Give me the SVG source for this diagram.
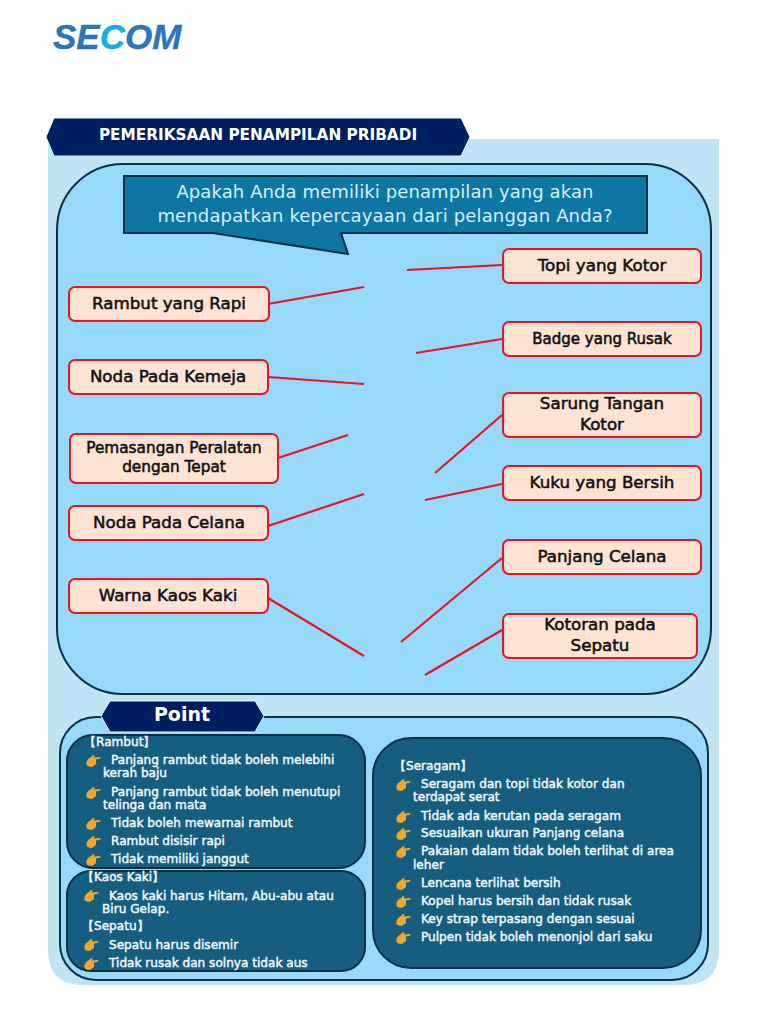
<svg xmlns="http://www.w3.org/2000/svg" width="768" height="1024" viewBox="0 0 768 1024">
<style>
.lab{font-family:"DejaVu Sans",sans-serif;font-size:16.700px;fill:#111;stroke:#111;stroke-width:.55px;text-anchor:middle}
.box{fill:#fde3d4;stroke:#f01020;stroke-width:2}
.p{font-family:"DejaVu Sans",sans-serif;font-size:12.100px;fill:#f2f6f8;stroke:#f2f6f8;stroke-width:.45px}
.dark{fill:#155e80;stroke:#0b2f45;stroke-width:2}
.ln{stroke:#f01020;stroke-width:2.200;fill:none}
</style>
<defs>
<g id="hand"><path d="M-6.500 1C-5.500-2-3.500-3-2-4L0-6 1.500-5.500 1-3.500 6.500-4C8-3.800 8-2.500 6.500-2.300L3-1.500 3 2C3 3.500 2 4 1 4.500L-1 6-4.500 5.500C-6.500 4.500-7 3-6.500 1Z" fill="#f5a623"/></g>
</defs>
<text x="53" y="49" font-family="'Liberation Sans',sans-serif" font-size="35" font-weight="700" font-style="italic" fill="#2f75b5" stroke="#2f75b5" stroke-width=".4">SE<tspan fill="#12aeea" stroke="#12aeea">C</tspan>OM</text>
<path id="bg" d="M48 139H719V950Q719 985 684 985H83Q48 985 48 950Z" fill="#c1e4f5"/>
<g id="title"><path d="M54 118H461L470 137 461 156H54L46 137Z" fill="#001f60" stroke="#e8f2f8" stroke-width="1"/>
<text x="258" y="140" font-family="'DejaVu Sans',sans-serif" font-size="15.300" font-weight="700" fill="#fff" text-anchor="middle">PEMERIKSAAN PENAMPILAN PRIBADI</text></g>
<rect id="panel" x="57" y="164" width="654" height="530" rx="66" fill="#97d9f8" stroke="#0b2f45" stroke-width="2"/>
<g id="callout"><path d="M124 176H647V233H341L348 254 213 233H124Z" fill="#0d76a3" stroke="#0b2f45" stroke-width="2"/>
<text x="385" y="198" font-family="'DejaVu Sans',sans-serif" font-size="18" letter-spacing=".1" fill="#d8eef8" text-anchor="middle">Apakah Anda memiliki penampilan yang akan</text>
<text x="385" y="222" font-family="'DejaVu Sans',sans-serif" font-size="18" letter-spacing=".15" fill="#d8eef8" text-anchor="middle">mendapatkan kepercayaan dari pelanggan Anda?</text></g>
<g id="connectors">
<path class="ln" d="M502 265 407 270M502 339 416 353M502 415 435 473M502 484 425 500M502 558 401 642M502 630 425 675M268 304 364 287M268 377 364 384M278 458 348 435M268 526 364 494M268 598 364 656"/>
</g>
<g id="n1"><rect class="box" x="503" y="249" width="198" height="34" rx="6"/><text class="lab" x="602" y="271">Topi yang Kotor</text></g>
<g id="n2"><rect class="box" x="503" y="322" width="198" height="34" rx="6"/><text class="lab" x="602" y="344" style="font-size:15px">Badge yang Rusak</text></g>
<g id="n3"><rect class="box" x="503" y="393" width="198" height="44" rx="6"/><text class="lab" x="602" y="409">Sarung Tangan</text><text class="lab" x="602" y="430">Kotor</text></g>
<g id="n4"><rect class="box" x="503" y="466" width="198" height="34" rx="6"/><text class="lab" x="602" y="488">Kuku yang Bersih</text></g>
<g id="n5"><rect class="box" x="503" y="540" width="198" height="34" rx="6"/><text class="lab" x="602" y="562">Panjang Celana</text></g>
<g id="n6"><rect class="box" x="503" y="614" width="194" height="44" rx="6"/><text class="lab" x="600" y="630">Kotoran pada</text><text class="lab" x="600" y="651">Sepatu</text></g>
<g id="n7"><rect class="box" x="69" y="287" width="200" height="34" rx="6"/><text class="lab" x="169" y="309">Rambut yang Rapi</text></g>
<g id="n8"><rect class="box" x="69" y="360" width="199" height="34" rx="6"/><text class="lab" x="168" y="382">Noda Pada Kemeja</text></g>
<g id="n9"><rect class="box" x="70" y="434" width="208" height="49" rx="6"/><text class="lab" x="174" y="453" style="font-size:15.300px">Pemasangan Peralatan</text><text class="lab" x="174" y="472" style="font-size:15.300px">dengan Tepat</text></g>
<g id="n10"><rect class="box" x="69" y="506" width="199" height="34" rx="6"/><text class="lab" x="169" y="528">Noda Pada Celana</text></g>
<g id="n11"><rect class="box" x="69" y="579" width="199" height="34" rx="6"/><text class="lab" x="168" y="601">Warna Kaos Kaki</text></g>
<rect id="pointpanel" x="60" y="717" width="648" height="263" rx="36" fill="#97d9f8" stroke="#0b2f45" stroke-width="2"/>
<g id="point"><path d="M110 701H255L264 716 255 732H110L101 716Z" fill="#001f60" stroke="#e8f2f8" stroke-width="1"/><text x="182" y="721" font-family="'DejaVu Sans',sans-serif" font-size="19" font-weight="700" fill="#fff" text-anchor="middle">Point</text></g>
<g id="rambut"><rect class="dark" x="67" y="735" width="298" height="133" rx="26"/>
<text class="p" x="84" y="746">【Rambut】</text>
<use href="#hand" x="93" y="761"/><text class="p" x="111" y="764">Panjang rambut tidak boleh melebihi</text><text class="p" x="103" y="777">kerah baju</text>
<use href="#hand" x="93" y="793"/><text class="p" x="111" y="796">Panjang rambut tidak boleh menutupi</text><text class="p" x="103" y="809">telinga dan mata</text>
<use href="#hand" x="93" y="824"/><text class="p" x="111" y="827">Tidak boleh mewarnai rambut</text>
<use href="#hand" x="93" y="842"/><text class="p" x="111" y="845">Rambut disisir rapi</text>
<use href="#hand" x="93" y="860"/><text class="p" x="111" y="863">Tidak memiliki janggut</text></g>
<g id="kaos"><rect class="dark" x="67" y="871" width="298" height="100" rx="24"/>
<text class="p" x="82" y="881">【Kaos Kaki】</text>
<use href="#hand" x="91" y="896"/><text class="p" x="109" y="900">Kaos kaki harus Hitam, Abu-abu atau</text><text class="p" x="102" y="913">Biru Gelap.</text>
<text class="p" x="82" y="930">【Sepatu】</text>
<use href="#hand" x="91" y="945"/><text class="p" x="109" y="949">Sepatu harus disemir</text>
<use href="#hand" x="91" y="964"/><text class="p" x="109" y="967">Tidak rusak dan solnya tidak aus</text></g>
<g id="seragam"><rect class="dark" x="373" y="738" width="328" height="230" rx="38"/>
<text class="p" x="394" y="770">【Seragam】</text>
<use href="#hand" x="403" y="785"/><text class="p" x="421" y="788">Seragam dan topi tidak kotor dan</text><text class="p" x="413" y="801">terdapat serat</text>
<use href="#hand" x="403" y="817"/><text class="p" x="421" y="820">Tidak ada kerutan pada seragam</text>
<use href="#hand" x="403" y="834"/><text class="p" x="421" y="837">Sesuaikan ukuran Panjang celana</text>
<use href="#hand" x="403" y="852"/><text class="p" x="421" y="855">Pakaian dalam tidak boleh terlihat di area</text><text class="p" x="413" y="869">leher</text>
<use href="#hand" x="403" y="884"/><text class="p" x="421" y="887">Lencana terlihat bersih</text>
<use href="#hand" x="403" y="902"/><text class="p" x="421" y="905">Kopel  harus bersih dan tidak rusak</text>
<use href="#hand" x="403" y="920"/><text class="p" x="421" y="923">Key strap terpasang dengan sesuai</text>
<use href="#hand" x="403" y="938"/><text class="p" x="421" y="941">Pulpen tidak boleh menonjol dari saku</text></g>
</svg>
